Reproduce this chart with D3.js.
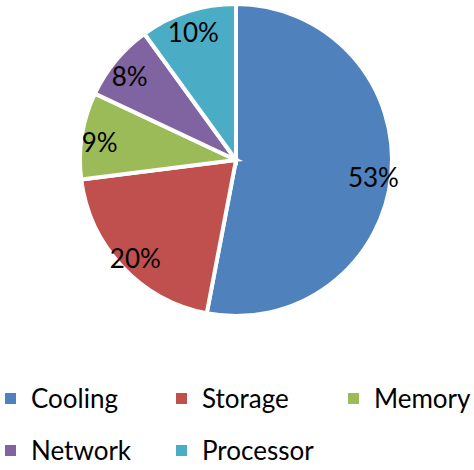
<!DOCTYPE html>
<html>
<head>
<meta charset="utf-8">
<script src="https://cdn.jsdelivr.net/npm/d3@7"></script>
<style>
  html,body{margin:0;padding:0;background:#fff;}
  svg{display:block;font-family:Lato,"Noto Sans",sans-serif;}
</style>
</head>
<body>
<div id="chart"></div>
<script>
const categories = ["Cooling","Storage","Memory","Network","Processor"];
const shares = [53,20,9,8,10];
const palette = ["#4F81BD","#C0504D","#9BBB59","#8064A2","#4BACC6"];

const w = 474, h = 470;
const cx = 236, cy = 160, R = 156;

const svg = d3.select("#chart").append("svg")
  .attr("width",w).attr("height",h);

const color = d3.scaleOrdinal().domain(categories).range(palette);

const pie = d3.pie().sort(null).value(d=>d.v);
const data = categories.map((c,i)=>({c, v: shares[i]}));
const arcs = pie(data);

const arc = d3.arc().innerRadius(0).outerRadius(R);
const labelArc = d3.arc().innerRadius(R*0.885).outerRadius(R*0.885);

const g = svg.append("g").attr("transform","translate("+cx+","+cy+")");

g.selectAll("path")
  .data(arcs)
  .enter().append("path")
  .attr("d",arc)
  .attr("fill",d=>color(d.data.c))
  .attr("stroke","#fff")
  .attr("stroke-width",4)
  .attr("stroke-linejoin","miter");

g.selectAll("text")
  .data(arcs)
  .enter().append("text")
  .attr("transform",d=>"translate("+labelArc.centroid(d)+")")
  .attr("text-anchor","middle")
  .attr("dy","0.52em")
  .attr("font-size",26)
  .attr("fill","#000")
  .text(d=>d.data.v+"%");

// legend, two rows
const cols = [5,176,348];
const rows = [399,451];
const leg = svg.append("g");
categories.forEach((c,i)=>{
  const x = cols[i%3], y = rows[Math.floor(i/3)];
  leg.append("rect")
    .attr("x",x).attr("y",y-6)
    .attr("width",11).attr("height",11)
    .attr("fill",color(c));
  leg.append("text")
    .attr("x",x+26).attr("y",y)
    .attr("dy","0.36em")
    .attr("font-size",26)
    .attr("fill","#000")
    .text(c);
});
</script>
</body>
</html>
